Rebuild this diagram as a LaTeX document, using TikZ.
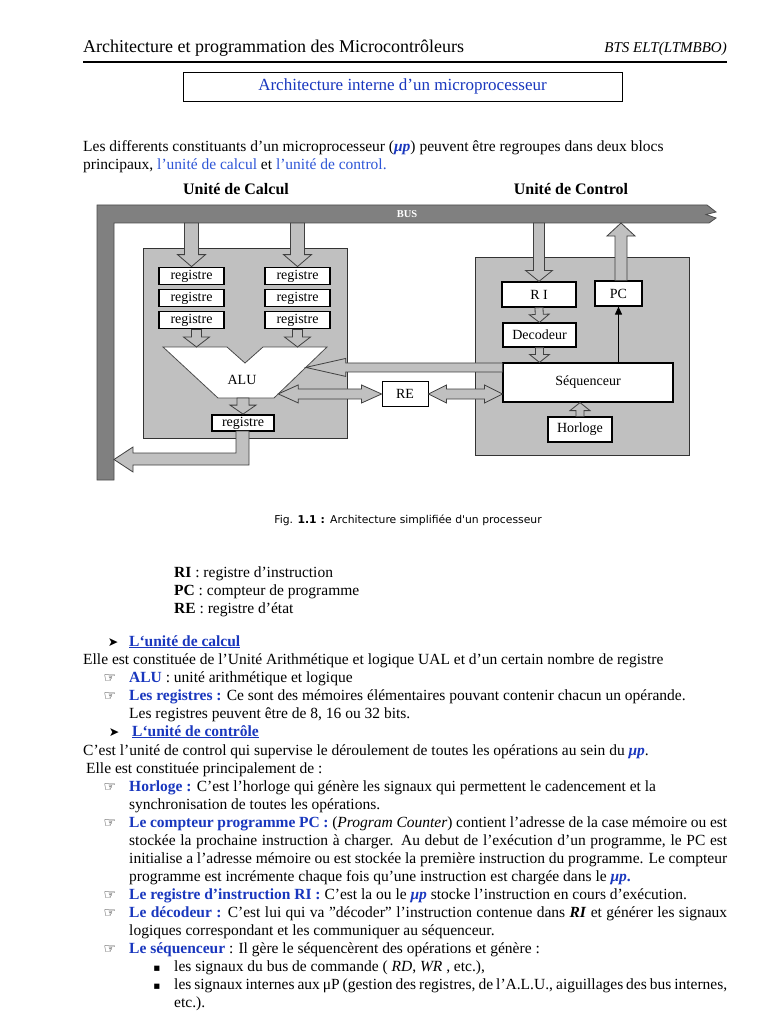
\documentclass[tikz,border=0pt]{standalone}
\usepackage{fontspec}
\setmainfont{Liberation Serif}
\newfontfamily\capfont{DejaVu Sans}
\newfontfamily\symfont{DejaVu Sans}
\usetikzlibrary{calc, arrows.meta}

\definecolor{bleu}{RGB}{25,55,190}
\definecolor{lien}{RGB}{45,85,215}
\definecolor{gris}{RGB}{192,192,192}
\definecolor{grisbus}{RGB}{128,128,128}

\newcommand{\corps}{\fontsize{15.5}{18}\selectfont}
\newcommand{\diag}{\fontsize{14}{15}\selectfont}
\newcommand{\mup}{{\color{bleu}\bfseries\itshape μp}}
\newcommand{\titre}[1]{{\color{bleu}\bfseries #1}}
\newcommand{\justif}[2]{\makebox[#1pt][s]{#2}}

\tikzset{
  ligne/.style={anchor=base west, inner sep=0pt, font=\corps},
  main/.style={anchor=base, inner sep=0pt, font=\symfont\fontsize{14}{14}\selectfont},
  puce/.style={anchor=base, inner sep=0pt, font=\symfont\fontsize{10.5}{10}\selectfont},
  fleche/.style={anchor=base, inner sep=0pt, font=\symfont\fontsize{12.5}{12}\selectfont},
  bus/.style={fill=grisbus, draw=black!70, line width=0.8pt},
  unite/.style={fill=gris, draw=black!80, line width=1pt, inner sep=0pt},
  reg/.style={draw=black, fill=white, line width=1.8pt, minimum width=65pt, minimum height=17pt, inner sep=0pt, font=\diag},
  boite/.style={draw=black, fill=white, line width=1.2pt, inner sep=0pt, font=\diag},
  blk/.style={fill=gris, draw=black!75, line width=0.8pt, line join=miter},
}

% fleche creuse de #1 vers #2 : demi-largeur corps, demi-largeur tete, longueur tete
\newcommand{\blocfleche}[5]{%
  \coordinate (bfA) at #1; \coordinate (bfB) at #2;
  \coordinate (bfC) at ($(bfB)!#5pt!(bfA)$);
  \draw[blk] ($(bfA)!#3pt!90:(bfB)$) -- ($(bfC)!#3pt!90:(bfB)$) -- ($(bfC)!#4pt!90:(bfB)$)
    -- (bfB) -- ($(bfC)!#4pt!-90:(bfB)$) -- ($(bfC)!#3pt!-90:(bfB)$) -- ($(bfA)!#3pt!-90:(bfB)$) -- cycle;
}
% fleche creuse a deux tetes
\newcommand{\doublefleche}[5]{%
  \coordinate (bfA) at #1; \coordinate (bfB) at #2;
  \coordinate (bfC) at ($(bfB)!#5pt!(bfA)$);
  \coordinate (bfD) at ($(bfA)!#5pt!(bfB)$);
  \draw[blk] (bfA) -- ($(bfD)!#4pt!90:(bfB)$) -- ($(bfD)!#3pt!90:(bfB)$) -- ($(bfC)!#3pt!90:(bfB)$)
    -- ($(bfC)!#4pt!90:(bfB)$) -- (bfB) -- ($(bfC)!#4pt!-90:(bfB)$) -- ($(bfC)!#3pt!-90:(bfB)$)
    -- ($(bfD)!#3pt!-90:(bfB)$) -- ($(bfD)!#4pt!-90:(bfB)$) -- cycle;
}

\begin{document}
\begin{tikzpicture}[x=1pt, y=-1pt]
\useasboundingbox[fill=white] (0,0) rectangle (768,1024);

% en-tete
\node[anchor=base west, inner sep=0pt, font=\fontsize{18}{20}\selectfont] (entete) at (83,53) {Architecture et programmation des Microcontrôleurs};
\node[anchor=base east, inner sep=0pt, font=\fontsize{15}{18}\selectfont\itshape] (bts) at (727,53) {BTS ELT(LTMBBO)};
\draw[line width=1.3pt] (entete.west |- 0,62) -- (bts.east |- 0,62);
\node[draw, line width=0.9pt, minimum width=439pt, minimum height=29pt, text=bleu, font=\fontsize{17}{18}\selectfont] (titre) at (402.5,86.5) {Architecture interne d'un microprocesseur};

% introduction
\node[ligne] (l1) at (83,152) {Les differents constituants d'un microprocesseur (\mup) peuvent être regroupes dans deux blocs};
\node[ligne] (l2) at (83,170) {principaux, {\color{lien}l'unité de calcul} et {\color{lien}l'unité de control.}};

% schema
\node[anchor=base, font=\fontsize{16}{18}\selectfont\bfseries] (tcalc) at (236,195) {Unité de Calcul};
\node[anchor=base, font=\fontsize{16}{18}\selectfont\bfseries] (tctrl) at (571,195) {Unité de Control};

\draw[bus] (97,205) -- (707,205) -- (716,212) -- (706,214.5) -- (716,218) -- (709,223) -- (114,223) -- (114,480) -- (97,480) -- cycle;
\coordinate (busbas) at (0,223);
\coordinate (busgauche) at (114,0);
\node[font=\fontsize{10.5}{10}\selectfont\bfseries, text=white] (buslbl) at (407,214) {BUS};

\node[unite, minimum width=204pt, minimum height=190pt] (ucalc) at (245,343) {};
\node[unite, minimum width=214pt, minimum height=198pt] (uctrl) at (582,356) {};

\node[reg] (ra1) at (191.5,276) {registre};
\node[reg] (ra2) at (191.5,298) {registre};
\node[reg] (ra3) at (191.5,320) {registre};
\node[reg] (rb1) at (297.5,276) {registre};
\node[reg] (rb2) at (297.5,298) {registre};
\node[reg] (rb3) at (297.5,320) {registre};

\coordinate (aluNO) at (163,347);
\coordinate (aluNE) at (327,347);
\coordinate (aluSE) at (274,398);
\coordinate (aluSO) at (218,398);
\draw[fill=white, draw=black!70, line width=0.8pt] (aluNO) -- (227,347) -- (245,363) -- (263,347) -- (aluNE) -- (aluSE) -- (aluSO) -- cycle;
\node[font=\diag] (alu) at (242,380) {ALU};
\node[reg, minimum width=62pt, minimum height=16pt] (rs) at (243,423) {registre};

\node[boite, minimum width=46pt, minimum height=25pt, line width=0.9pt] (re) at (405,394) {RE};

\node[boite, minimum width=74pt, minimum height=25pt] (ri) at (539,294.5) {R I};
\node[boite, minimum width=47pt, minimum height=25pt] (pc) at (618.5,293.5) {PC};
\node[boite, minimum width=73pt, minimum height=24pt] (dec) at (539.5,335) {Decodeur};
\node[boite, minimum width=170pt, minimum height=39pt] (seq) at (588,382.5) {Séquenceur};
\node[boite, minimum width=64pt, minimum height=25pt] (horl) at (580,429.5) {Horloge};

% fleches
\blocfleche{(ra1.north |- busbas)}{(ra1.north)}{7}{14}{12}
\blocfleche{(rb1.north |- busbas)}{(rb1.north)}{7}{14}{12}
\blocfleche{([xshift=5pt]ra3.south)}{([xshift=5pt]ra3.south |- aluNO)}{5}{13}{10}
\blocfleche{(rb3.south)}{(rb3.south |- aluNO)}{5}{13}{10}
\blocfleche{(rs.north |- aluSO)}{(rs.north)}{6}{13}{9}
\draw[blk] (236,431) -- (236,453) -- (133,453) -- (133,447) -- (busgauche |- 0,459.5) -- (133,472) -- (133,465) -- (249,465) -- (249,431) -- cycle;

\blocfleche{([yshift=15pt]seq.west)}{($(aluNE)!0.4!(aluSE)$)}{4.5}{9}{40}
\doublefleche{($(aluNE)!0.92!(aluSE)$)}{(re.west)}{5}{9}{20}
\doublefleche{(re.east)}{(seq.west |- re.east)}{5}{9}{18}

\blocfleche{(ri.north |- busbas)}{(ri.north)}{5.5}{13.5}{11}
\blocfleche{([xshift=2.5pt]pc.north)}{([xshift=2.5pt]pc.north |- busbas)}{6}{14}{13}
\blocfleche{(ri.south)}{(dec.north)}{4}{10}{8}
\blocfleche{(dec.south)}{(dec.south |- seq.north)}{4}{10}{8}
\blocfleche{(horl.north)}{(horl.north |- seq.south)}{4}{10}{8}
\draw[line width=1pt, -{Triangle[length=8pt, width=7pt]}] (pc.south |- seq.north) -- (pc.south);

% legende
\node[anchor=base, inner sep=0pt, font=\capfont\fontsize{10.8}{12}\selectfont] (legende) at (408,523) {Fig. \textbf{1.1 :}\enspace Architecture simplifiée d'un processeur};

\node[ligne] (dri) at (174,577) {\textbf{RI} : registre d'instruction};
\node[ligne] (dpc) at (174,595) {\textbf{PC} : compteur de programme};
\node[ligne] (dre) at (174,613) {\textbf{RE} : registre d'état};

% texte
\node[fleche] (f1) at (113,646) {➤};
\node[ligne] (s1) at (129,646) {\titre{\underline{L‘unité de calcul}}};
\node[ligne] (t1) at (83,664) {Elle est constituée de l'Unité Arithmétique et logique UAL et d'un certain nombre de registre};
\node[main] (m1) at (110,682) {☞};
\node[ligne] (t2) at (129,682) {\titre{ALU} : unité arithmétique et logique};
\node[main] (m2) at (110,700) {☞};
\node[ligne] (t3) at (129,700) {\titre{Les registres :} Ce sont des mémoires élémentaires pouvant contenir chacun un opérande.};
\node[ligne] (t4) at (129,718) {Les registres peuvent être de 8, 16 ou 32 bits.};
\node[fleche] (f2) at (114,736) {➤};
\node[ligne] (s2) at (132,736) {\titre{\underline{L‘unité de contrôle}}};
\node[ligne] (t5) at (83,755) {C'est l'unité de control qui supervise le déroulement de toutes les opérations au sein du \mup.};
\node[ligne] (t6) at (86,773) {Elle est constituée principalement de :};
\node[main] (m3) at (110,791) {☞};
\node[ligne] (t7) at (129,791) {\titre{Horloge :} C'est l'horloge qui génère les signaux qui permettent le cadencement et la};
\node[ligne] (t8) at (129,809) {synchronisation de toutes les opérations.};
\node[main] (m4) at (110,827) {☞};
\node[ligne] (t9) at (129,827) {\justif{598}{\titre{Le compteur programme PC :} (\textit{Program Counter}) contient l'adresse de la case mémoire ou est}};
\node[ligne] (t10) at (129,845) {\justif{598}{stockée la prochaine instruction à charger. Au debut de l'exécution d'un programme, le PC est}};
\node[ligne] (t11) at (129,863) {\justif{598}{initialise a l'adresse mémoire ou est stockée la première instruction du programme. Le compteur}};
\node[ligne] (t12) at (129,881) {programme est incrémente chaque fois qu'une instruction est chargée dans le \mup{\color{bleu}\bfseries.}};
\node[main] (m5) at (110,899) {☞};
\node[ligne] (t13) at (129,899) {\titre{Le registre d'instruction RI :} C'est la ou le \mup{} stocke l'instruction en cours d'exécution.};
\node[main] (m6) at (110,917) {☞};
\node[ligne] (t14) at (129,917) {\justif{598}{\titre{Le décodeur :} C'est lui qui va "décoder" l'instruction contenue dans \textbf{\textit{RI}} et générer les signaux}};
\node[ligne] (t15) at (129,935) {logiques correspondant et les communiquer au séquenceur.};
\node[main] (m7) at (110,953) {☞};
\node[ligne] (t16) at (129,953) {\titre{Le séquenceur} : Il gère le séquencèrent des opérations et génère :};
\node[puce] (p1) at (157,971) {▪};
\node[ligne] (t17) at (174,971) {les signaux du bus de commande ( \textit{RD}, \textit{WR} , etc.),};
\node[puce] (p2) at (157,989) {▪};
\node[ligne] (t18) at (174,989) {\justif{553}{les signaux internes aux μP (gestion des registres, de l'A.L.U., aiguillages des bus internes,}};
\node[ligne] (t19) at (174,1007) {etc.).};
\end{tikzpicture}
\end{document}
